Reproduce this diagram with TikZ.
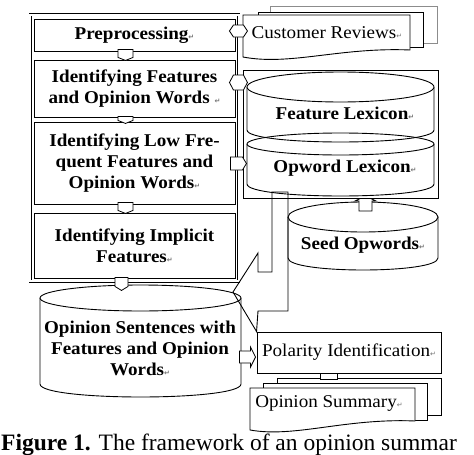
\documentclass[tikz,border=0pt]{standalone}
\usepackage{fontspec}
\setmainfont{Liberation Serif}[FakeStretch=1.06]
\newfontfamily\capfont{Liberation Serif}
\newfontfamily\symfont{DejaVu Sans}
\usetikzlibrary{calc}
\newcommand\parmk{{\symfont\fontsize{7}{7}\selectfont\color{black!55}↵}}
% cylinder: [top ellipse fill]{x1}{x2}{ytop}{rtop}{ybottom}{rbottom}
\newcommand\mycyl[7][white]{%
  \draw[ln, fill=white] (#2,#4) -- (#2,#6) .. controls (#2,{#6+1.333*#7}) and (#3,{#6+1.333*#7}) .. (#3,#6) -- (#3,#4);
  \draw[ln, fill=#1] ({(#2+#3)/2},#4) ellipse [x radius={(#3-#2)/2}, y radius=#5];}
\tikzset{
  ln/.style={line width=0.9pt, draw=black},
  pbox/.style={ln, fill=white, inner sep=0pt, align=center, font=\bfseries\fontsize{18}{21}\selectfont},
  lblb/.style={inner sep=0pt, align=center, font=\bfseries\fontsize{18}{21}\selectfont},
  lblr/.style={inner sep=0pt, align=center, font=\fontsize{18}{21}\selectfont},
  conn/.style={ln, line width=0.8pt, fill=white, line join=miter},
  doc/.style={ln, fill=white},
}
\begin{document}
\begin{tikzpicture}[x=1pt,y=-1pt]
\useasboundingbox (0,0) rectangle (474,455);
\clip (0,0) rectangle (474,455);

% left frame
\node[draw, line width=0.7pt, double, double distance=1.8pt, inner sep=0,
      minimum width=208.3pt, minimum height=266.6pt] (frame) at (134.45,147.9) {};

% process boxes
\node[pbox, minimum width=201pt, minimum height=32pt] (p1) at (134.5,35) {Preprocessing\parmk};
\node[pbox, minimum width=201pt, minimum height=57pt] (p2) at (134.5,88.5) {Identifying Features\\and Opinion Words \parmk};
\node[pbox, minimum width=201pt, minimum height=82pt] (p3) at (134.5,163) {Identifying Low Fre-\\quent Features and\\Opinion Words\parmk};
\node[pbox, minimum width=201pt, minimum height=65pt] (p4) at (134.5,245.5) {Identifying Implicit\\Features\parmk};

% down connectors
\draw[conn] ($(p1.south)+(-16.5,-2)$) -- ++(15,0) -- ++(0,8) -- ++(-7.5,3) -- ++(-7.5,-3) -- cycle;
\draw[conn] ($(p2.south)+(-16.5,-1)$) -- ++(15,0) -- ++(0,4) -- ++(-7.5,3) -- ++(-7.5,-3) -- cycle;
\draw[conn] ($(p3.south)+(-16.5,-2)$) -- ++(15,0) -- ++(0,8) -- ++(-7.5,3) -- ++(-7.5,-3) -- cycle;

% customer reviews documents
\draw[doc, draw=black!45] (270,6) rectangle (437,43);
\draw[doc] (258,12) rectangle (423,47);
\draw[doc] (243,15) -- (410,15) -- (410,50) .. controls (340,47) and (290,66) .. (243,57) -- cycle;
\node[lblr] (cr) at (327,33) {Customer Reviews\parmk};

% seed opwords and its connector
\mycyl{288}{438}{217}{15}{258}{12}
\node[lblb] (seed) at (363,245) {Seed Opwords\parmk};

% lexicon container
\coordinate (lexs) at (340.5,198);
\draw[conn] ($(lexs)+(18.5,13)$) -- ++(0,-10) -- ++(-4,0) -- ++(10.5,-5) -- ++(10.5,5) -- ++(-4,0) -- ++(0,10) -- cycle;
\node[ln, fill=white, minimum width=195pt, minimum height=128pt, inner sep=0] (lex) at (340.5,134) {};
\mycyl{247}{434}{87}{15}{130}{12}
\mycyl[none]{247}{434}{144}{11}{184}{12}
\node[lblb] (fl) at (345,113) {Feature Lexicon\parmk};
\node[lblb] (ol) at (345,168) {Opword Lexicon\parmk};

% side connectors
\draw[conn] ($(p1.east)+(-6,-4)$) -- ++(4,-6) -- ++(10,0) -- ++(4,6) -- ++(-4,6) -- ++(-10,0) -- cycle;
\draw[conn] ($(p2.east)+(-6,-6)$) -- ++(4,-7.5) -- ++(10,0) -- ++(4,7.5) -- ++(-4,7.5) -- ++(-10,0) -- cycle;
\draw[conn] ($(p3.east)+(-5,-6)$) -- ++(12,0) -- ++(4,6.5) -- ++(-4,6.5) -- ++(-12,0) -- cycle;

% opinion sentences database
\mycyl{40}{241}{298}{13}{384}{13}
\node[lblb] (os) at (140,348) {Opinion Sentences with\\Features and Opinion\\Words\parmk};
\draw[conn] ($(p4.south)+(-19.5,-1)$) -- ++(13,0) -- ++(0,9) -- ++(-6.5,4) -- ++(-6.5,-4) -- cycle;

% polarity identification
\node[ln, fill=white, minimum width=184pt, minimum height=41pt, inner sep=0,
      font=\fontsize{18}{21}\selectfont] (pol) at (349,352.5) {Polarity Identification\parmk};
\draw[conn] ($(pol.west)+(-17,-1.5)$) -- ++(11,0) -- ++(0,-4) -- ++(5,10) -- ++(-5,10) -- ++(0,-4) -- ++(-11,0) -- cycle;

% opinion summary documents
\draw[doc] (277,378) rectangle (441,415);
\draw[doc] (263,383) rectangle (427,420);
\draw[doc] (250,388) -- (415,388) -- (415,421) .. controls (345,418) and (295,438) .. (250,430) -- cycle;
\node[lblr] (sum) at (329,403) {Opinion Summary\parmk};
\draw[conn] ($(pol.south)+(-29,0)$) rectangle ++(17,6);

% bent connector from lexicon to polarity
\draw[ln, line join=miter] (272,192) -- (272,272) -- (258,272) -- (258,253) -- (233,292)
  -- (pol.north west) -- (258,311) -- (288,311) -- (288,192) -- cycle;

% caption
\node[anchor=base west, inner sep=0, font=\capfont\fontsize{23.5}{26}\selectfont] (cap) at (1,450)
  {\textbf{Figure 1.} The framework of an opinion summar};
\end{tikzpicture}
\end{document}
